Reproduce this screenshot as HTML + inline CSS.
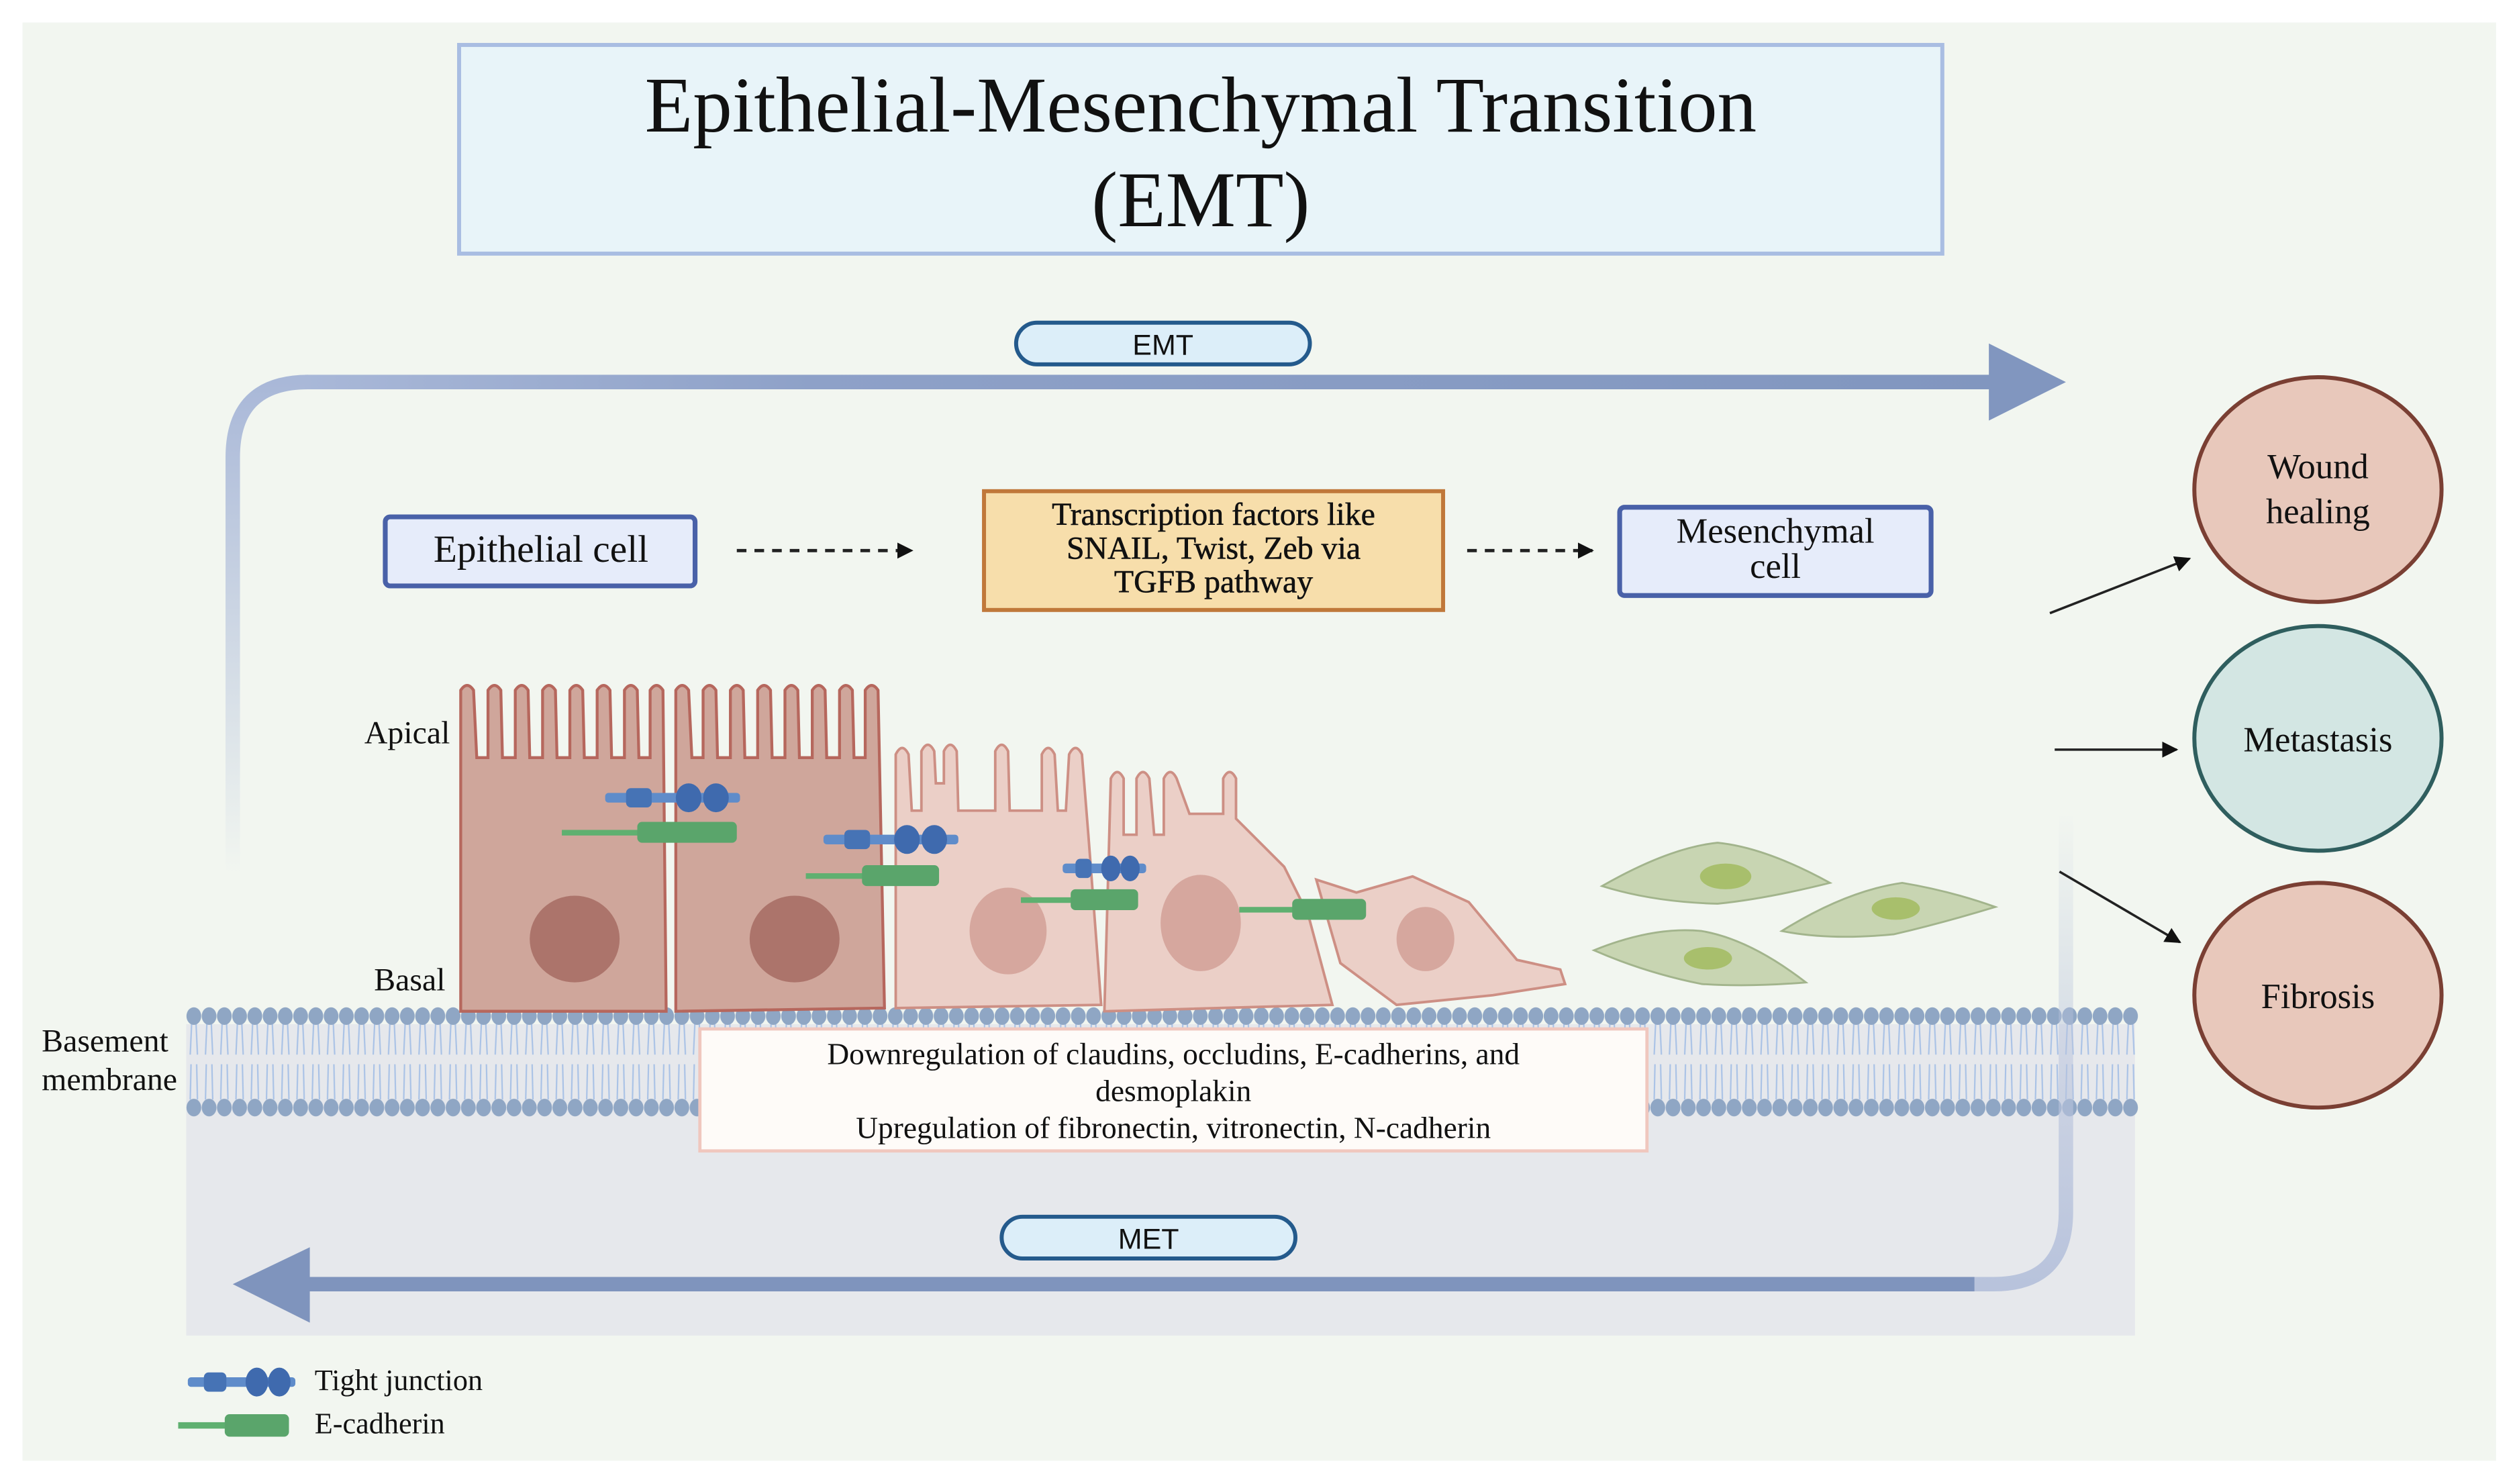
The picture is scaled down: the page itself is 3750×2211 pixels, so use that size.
<!DOCTYPE html>
<html><head><meta charset="utf-8"><style>
html,body{margin:0;padding:0;background:#fff;}
svg{display:block;}
text{font-family:"Liberation Serif",serif;fill:#111;}
.s{font-family:"Liberation Sans",sans-serif;}
</style></head><body>
<svg width="3750" height="2211" viewBox="0 0 1568 924.5" xmlns="http://www.w3.org/2000/svg">
<defs>
<pattern id="lip" x="116" y="627" width="9.5" height="70" patternUnits="userSpaceOnUse">
<path d="M3.5 8 L2.5 30 M6 8 L7 30 M3 36 L2.5 58 M6.5 36 L7 58" stroke="#a9c2e6" stroke-width="0.9" fill="none"/>
<ellipse cx="4.75" cy="6" rx="4.6" ry="5.5" fill="#8fa6c4"/>
<ellipse cx="4.75" cy="63" rx="4.6" ry="5.5" fill="#8fa6c4"/>
</pattern>
<linearGradient id="gl" gradientUnits="userSpaceOnUse" x1="0" y1="545" x2="0" y2="238"><stop offset="0" stop-color="#a9b8d8" stop-opacity="0"/><stop offset="1" stop-color="#a9b8d8"/></linearGradient>
<linearGradient id="gh" gradientUnits="userSpaceOnUse" x1="190" y1="0" x2="1242" y2="0"><stop offset="0" stop-color="#a9b8d8"/><stop offset="0.3" stop-color="#8ea1c8"/><stop offset="1" stop-color="#8196bf"/></linearGradient>
<linearGradient id="gr" gradientUnits="userSpaceOnUse" x1="0" y1="505" x2="0" y2="800"><stop offset="0" stop-color="#b8c3dc" stop-opacity="0"/><stop offset="1" stop-color="#b8c3dc"/></linearGradient>
<marker id="ah" markerWidth="10" markerHeight="10" refX="9" refY="5" orient="auto" markerUnits="userSpaceOnUse"><path d="M0 0 L10 5 L0 10 Z" fill="#111"/></marker>
</defs>
<rect x="14" y="14" width="1541" height="896" fill="#f2f6f0"/>
<rect x="116" y="638" width="1214" height="194" fill="#e6e8ec"/>
<rect x="116" y="627" width="1216" height="70" fill="url(#lip)"/>

<path d="M145 545 L145 285 Q145 238 192 238" stroke="url(#gl)" stroke-width="9" fill="none"/>
<path d="M190 238 L1242 238" stroke="url(#gh)" stroke-width="9"/>
<path d="M1239 214 L1287 238 L1239 262 Z" fill="#8196bf"/>
<path d="M1287 505 L1287 755 Q1287 800 1242 800 L1225 800" stroke="url(#gr)" stroke-width="9" fill="none"/>
<path d="M1230 800 L190 800" stroke="#7f94bd" stroke-width="9"/>
<path d="M193 777 L145 800 L193 824 Z" fill="#7f94bd"/>

<rect x="286" y="28" width="924" height="130" fill="#e8f4f9" stroke="#a9bde2" stroke-width="2.5"/>
<text x="748" y="82" font-size="49" text-anchor="middle">Epithelial-Mesenchymal Transition</text>
<text x="748" y="141" font-size="49" text-anchor="middle">(EMT)</text>

<rect x="633" y="201" width="183" height="26" rx="13" fill="#dceef9" stroke="#245a8c" stroke-width="2.5"/>
<text class="s" x="724.5" y="221" font-size="18" text-anchor="middle">EMT</text>
<rect x="624" y="758" width="183" height="26" rx="13" fill="#dceef9" stroke="#245a8c" stroke-width="2.5"/>
<text class="s" x="715.5" y="778" font-size="18" text-anchor="middle">MET</text>

<rect x="240" y="322" width="193" height="43" rx="3" fill="#e6ecfa" stroke="#4961a8" stroke-width="3"/>
<text x="337" y="350" font-size="24" text-anchor="middle">Epithelial cell</text>
<rect x="613" y="306" width="286" height="74" fill="#f7deab" stroke="#c0783a" stroke-width="2.5"/>
<g font-size="20" stroke="#111" stroke-width="0.25">
<text x="756" y="327" text-anchor="middle">Transcription factors like</text>
<text x="756" y="348" text-anchor="middle">SNAIL, Twist, Zeb via</text>
<text x="756" y="369" text-anchor="middle">TGFB pathway</text>
</g>
<rect x="1009" y="316" width="194" height="55" rx="3" fill="#e6ecfa" stroke="#4961a8" stroke-width="3"/>
<text x="1106" y="338" font-size="22" text-anchor="middle">Mesenchymal</text>
<text x="1106" y="360" font-size="22" text-anchor="middle">cell</text>
<path d="M459 343 L568 343" stroke="#222" stroke-width="2" stroke-dasharray="6,5" marker-end="url(#ah)"/>
<path d="M914 343 L992 343" stroke="#222" stroke-width="2" stroke-dasharray="6,5" marker-end="url(#ah)"/>

<ellipse cx="1444" cy="305" rx="77" ry="70" fill="#e8c8bb" stroke="#7a3f33" stroke-width="2.5"/>
<text x="1444" y="298" font-size="22" text-anchor="middle">Wound</text>
<text x="1444" y="326" font-size="22" text-anchor="middle">healing</text>
<ellipse cx="1444" cy="460" rx="77" ry="70" fill="#d3e6e3" stroke="#2f5e5e" stroke-width="2.5"/>
<text x="1444" y="468" font-size="22" text-anchor="middle">Metastasis</text>
<ellipse cx="1444" cy="620" rx="77" ry="70" fill="#e8c8bb" stroke="#7a3f33" stroke-width="2.5"/>
<text x="1444" y="628" font-size="22" text-anchor="middle">Fibrosis</text>
<path d="M1277 382 L1364 348" stroke="#222" stroke-width="1.5" marker-end="url(#ah)"/>
<path d="M1280 467 L1356 467" stroke="#222" stroke-width="1.5" marker-end="url(#ah)"/>
<path d="M1283 543 L1358 587" stroke="#222" stroke-width="1.5" marker-end="url(#ah)"/>

<text x="227" y="463" font-size="20">Apical</text>
<text x="233" y="617" font-size="20">Basal</text>
<text x="26" y="655" font-size="20">Basement</text>
<text x="26" y="679" font-size="20">membrane</text>

<g stroke="#b6675d" stroke-width="1.8" fill="#cfa69b">
<path d="M287 630 L287 430 q4 -6 8 0 L297 472 L304 472 L304 430 q4 -6 8 0 L313 472 L321 472 L321 430 q4 -6 8 0 L330 472 L338 472 L338 430 q4 -6 8 0 L347 472 L355 472 L355 430 q4 -6 8 0 L364 472 L372 472 L372 430 q4 -6 8 0 L381 472 L389 472 L389 430 q4 -6 8 0 L398 472 L405 472 L405 430 q4 -6 8 0 L415 630 Z"/>
<path d="M421 630 L421 430 q4 -6 8 0 L431 472 L438 472 L438 430 q4 -6 8 0 L447 472 L455 472 L455 430 q4 -6 8 0 L464 472 L472 472 L472 430 q4 -6 8 0 L481 472 L489 472 L489 430 q4 -6 8 0 L498 472 L506 472 L506 430 q4 -6 8 0 L515 472 L523 472 L523 430 q4 -6 8 0 L532 472 L539 472 L539 430 q4 -6 8 0 L551 628 L421 630 Z"/>
</g>
<ellipse cx="358" cy="585" rx="28" ry="27" fill="#ac746b"/>
<ellipse cx="495" cy="585" rx="28" ry="27" fill="#ac746b"/>
<g stroke="#cd8f84" stroke-width="1.6" fill="#ebcfc7">
<path d="M558 628 L558 470 q4 -8 8 0 L568 505 L574 505 L574 468 q4 -8 8 0 L583 488 L588 488 L588 468 q4 -8 8 0 L597 505 L620 505 L620 468 q4 -8 8 0 L629 505 L649 505 L649 470 q4 -8 8 0 L659 505 L664 505 L666 470 q4 -8 8 0 L678 520 L686 626 L558 628 Z"/>
<path d="M688 630 L692 485 q4 -8 8 0 L700 520 L708 520 L708 485 q4 -8 8 0 L719 520 L725 520 L725 485 q4 -8 8 0 L741 507 L762 507 L762 485 q4 -8 8 0 L770 510 L800 540 L815 570 L830 626 L688 630 Z"/>
<path d="M820 548 L845 556 L880 546 L915 562 L945 598 L972 604 L975 613 L930 620 L870 626 L835 600 Z"/>
</g>
<ellipse cx="628" cy="580" rx="24" ry="27" fill="#d6a79e"/>
<ellipse cx="748" cy="575" rx="25" ry="30" fill="#d6a79e"/>
<ellipse cx="888" cy="585" rx="18" ry="20" fill="#d6a79e"/>

<rect x="377" y="494" width="84" height="6" rx="2" fill="#5f8cca"/>
<rect x="390" y="491" width="16" height="12" rx="3" fill="#4673b5"/>
<ellipse cx="429" cy="497" rx="8" ry="9" fill="#3f6aae"/>
<ellipse cx="446" cy="497" rx="8" ry="9" fill="#3f6aae"/>
<rect x="350" y="517" width="60" height="3.5" fill="#5fb070"/>
<rect x="397" y="512" width="62" height="13" rx="3" fill="#5aa56b"/>
<rect x="513" y="520" width="84" height="6" rx="2" fill="#5f8cca"/>
<rect x="526" y="517" width="16" height="12" rx="3" fill="#4673b5"/>
<ellipse cx="565" cy="523" rx="8" ry="9" fill="#3f6aae"/>
<ellipse cx="582" cy="523" rx="8" ry="9" fill="#3f6aae"/>
<rect x="502" y="544" width="40" height="3.5" fill="#5fb070"/>
<rect x="537" y="539" width="48" height="13" rx="3" fill="#5aa56b"/>
<rect x="662" y="538" width="52" height="6" rx="2" fill="#5f8cca"/>
<rect x="670" y="535" width="10" height="12" rx="3" fill="#4673b5"/>
<ellipse cx="692" cy="541" rx="6" ry="8" fill="#3f6aae"/>
<ellipse cx="704" cy="541" rx="6" ry="8" fill="#3f6aae"/>
<rect x="636" y="559" width="40" height="3.5" fill="#5fb070"/>
<rect x="667" y="554" width="42" height="13" rx="3" fill="#5aa56b"/>
<rect x="772" y="565" width="40" height="3.5" fill="#5fb070"/>
<rect x="805" y="560" width="46" height="13" rx="3" fill="#5aa56b"/>

<g fill="#c8d5b2" stroke="#a2b48c" stroke-width="1.2">
<path d="M998 552 Q1040 528 1070 525 Q1100 528 1140 550 Q1100 560 1070 563 Q1030 562 998 552 Z"/>
<path d="M1110 580 Q1150 555 1185 550 Q1215 555 1243 565 Q1210 575 1180 582 Q1140 586 1110 580 Z"/>
<path d="M993 592 Q1030 577 1060 580 Q1090 585 1125 612 Q1090 615 1060 613 Q1025 606 993 592 Z"/>
</g>
<ellipse cx="1075" cy="546" rx="16" ry="8" fill="#a8bf6c"/>
<ellipse cx="1181" cy="566" rx="15" ry="7" fill="#a8bf6c"/>
<ellipse cx="1064" cy="597" rx="15" ry="7" fill="#a8bf6c"/>

<rect x="436" y="641" width="590" height="76" fill="#fefbf8" stroke="#f0c7be" stroke-width="2"/>
<g font-size="19">
<text x="731" y="663" text-anchor="middle">Downregulation of claudins, occludins, E-cadherins, and</text>
<text x="731" y="686" text-anchor="middle">desmoplakin</text>
<text x="731" y="709" text-anchor="middle">Upregulation of fibronectin, vitronectin, N-cadherin</text>
</g>

<rect x="117" y="858" width="67" height="6" rx="2" fill="#5f8cca"/>
<rect x="127" y="855" width="14" height="12" rx="3" fill="#4673b5"/>
<ellipse cx="160" cy="861" rx="7" ry="9" fill="#3f6aae"/>
<ellipse cx="174" cy="861" rx="7" ry="9" fill="#3f6aae"/>
<text x="196" y="866" font-size="18.5">Tight junction</text>
<rect x="111" y="886" width="35" height="4" fill="#5fb070"/>
<rect x="140" y="881" width="40" height="14" rx="3" fill="#5aa56b"/>
<text x="196" y="893" font-size="18.5">E-cadherin</text>
</svg>
</body></html>
